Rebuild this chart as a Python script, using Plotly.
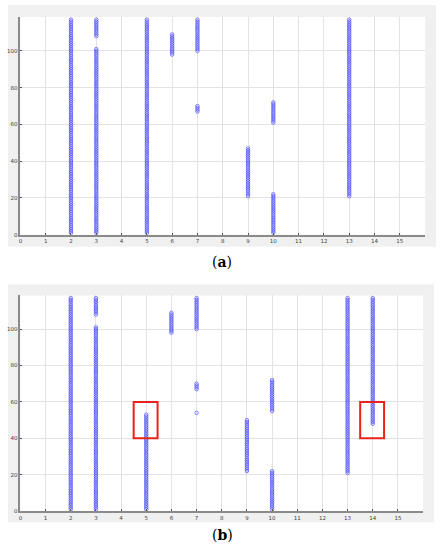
import numpy as np
import plotly.graph_objects as go

# column segments (x, first index, last index), panel (a)
seg_a_x     = [2, 3, 3, 5, 6, 7, 7, 9, 10, 10, 13]
seg_a_start = [1, 1, 108, 1, 98, 100, 67, 21, 1, 61, 21]
seg_a_end   = [117, 101, 117, 117, 109, 117, 70, 47, 22, 72, 117]

# panel (b)
seg_b_x     = [2, 3, 3, 5, 6, 7, 7, 7, 9, 10, 10, 13, 14]
seg_b_start = [1, 1, 108, 1, 98, 100, 67, 54, 22, 1, 55, 21, 48]
seg_b_end   = [117, 101, 117, 53, 109, 117, 70, 54, 50, 22, 72, 117, 117]

# highlighted regions in (b): x0, x1, y0, y1
box_x0 = [4.5, 13.5]
box_x1 = [5.45, 14.45]
box_y0 = [40, 40]
box_y1 = [60, 60]

x_ticks = list(range(0, 16))
y_ticks = [0, 20, 40, 60, 80, 100]


def expand(xs, starts, ends):
    px, py = [], []
    for x, s, e in zip(xs, starts, ends):
        for v in range(s, e + 1):
            px.append(x)
            py.append(v)
    return px, py


W, H = 442, 550
fig = go.Figure()

marker = dict(symbol='circle-open', size=3.5, color='rgba(70,70,255,0.75)', line=dict(width=0.9))

xa, ya = expand(seg_a_x, seg_a_start, seg_a_end)
xb, yb = expand(seg_b_x, seg_b_start, seg_b_end)
fig.add_trace(go.Scatter(x=xa, y=ya, mode='markers', marker=marker, xaxis='x', yaxis='y', showlegend=False))
fig.add_trace(go.Scatter(x=xb, y=yb, mode='markers', marker=marker, xaxis='x2', yaxis='y2', showlegend=False))

# panel frames in pixels: (grey x0, x1, y0, y1), (plot x0, x1, y0, y1)
frames = [((6, 436, 5, 248), (18.5, 425, 17, 236)),
          ((6, 434, 286, 525), (18.5, 423, 297, 514))]

shapes = []
for grey, plot in frames:
    gx0, gx1, gy0, gy1 = grey
    shapes.append(dict(type='rect', xref='paper', yref='paper', layer='below',
                       x0=gx0 / W, x1=gx1 / W, y0=1 - gy1 / H, y1=1 - gy0 / H,
                       fillcolor='#f0f0f0', line=dict(width=0)))
    px0, px1, py0, py1 = plot
    shapes.append(dict(type='rect', xref='paper', yref='paper', layer='below',
                       x0=px0 / W, x1=px1 / W, y0=1 - py1 / H, y1=1 - py0 / H,
                       fillcolor='white', line=dict(width=0)))

for x0, x1, y0, y1 in zip(box_x0, box_x1, box_y0, box_y1):
    shapes.append(dict(type='rect', xref='x2', yref='y2', x0=x0, x1=x1, y0=y0, y1=y1,
                       line=dict(color='#e8231b', width=2)))

axis_common = dict(showgrid=True, gridcolor='#e3e3e3', gridwidth=1, zeroline=False,
                   showline=True, linecolor='#8a8a8a', linewidth=1.5,
                   ticks='inside', ticklen=2, tickcolor='#555', tickwidth=1,
                   tickfont=dict(family='DejaVu Sans', size=5.5, color='#444'))

xcommon = dict(axis_common, range=[0, 16], tickvals=x_ticks)
ycommon = dict(axis_common, range=[0, 118.5], tickvals=y_ticks)

fig.update_layout(
    width=W, height=H,
    margin=dict(l=0, r=0, t=0, b=0),
    paper_bgcolor='white',
    plot_bgcolor='rgba(0,0,0,0)',
    xaxis=dict(xcommon, domain=[18.5 / W, 425 / W], anchor='y'),
    yaxis=dict(ycommon, domain=[1 - 236 / H, 1 - 17 / H], anchor='x'),
    xaxis2=dict(xcommon, domain=[18.5 / W, 423 / W], anchor='y2'),
    yaxis2=dict(ycommon, domain=[1 - 514 / H, 1 - 297 / H], anchor='x2'),
    shapes=shapes,
    annotations=[
        dict(text='(<b>a</b>)', x=0.5, y=1 - 263 / H, xref='paper', yref='paper',
             xanchor='center', yanchor='middle', showarrow=False,
             font=dict(family='DejaVu Serif', size=14, color='black')),
        dict(text='(<b>b</b>)', x=0.5, y=1 - 538 / H, xref='paper', yref='paper',
             xanchor='center', yanchor='middle', showarrow=False,
             font=dict(family='DejaVu Serif', size=14, color='black')),
    ],
)

fig.write_html("out.html", config={'displayModeBar': False},
               post_script="document.body.style.margin='0px';")
